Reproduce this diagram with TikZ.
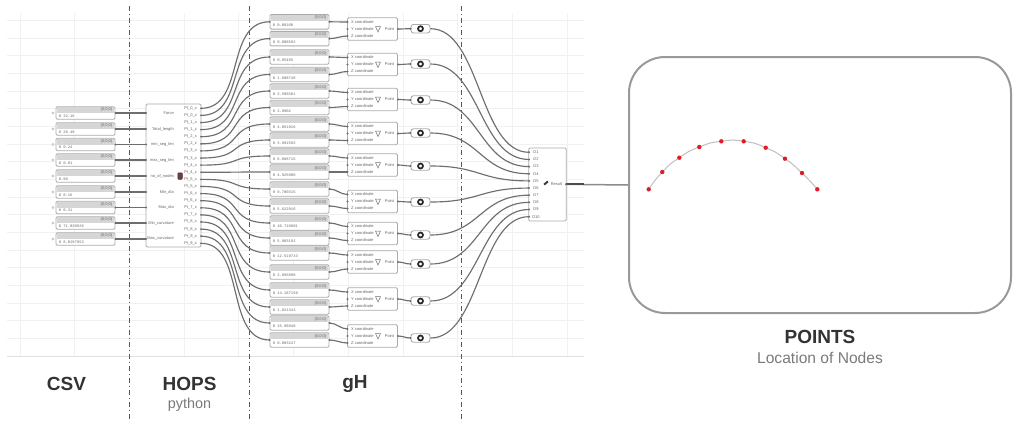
\documentclass[tikz,border=0pt]{standalone}
\usepackage{fontspec}
\setmainfont{Liberation Sans}
\setmonofont{Liberation Mono}
\usetikzlibrary{calc}
\definecolor{wirec}{HTML}{6E6E6E}
\definecolor{boxc}{HTML}{ABABAB}
\definecolor{headc}{HTML}{D6D6D6}
\definecolor{gridc}{HTML}{F1F1F1}
\definecolor{txtc}{HTML}{666666}
\definecolor{redc}{HTML}{DC1E28}
\definecolor{titlec}{HTML}{333333}
\definecolor{subc}{HTML}{7A7A7A}
\tikzset{
  x=1pt,y=-1pt,
  gridline/.style={gridc,line width=0.7pt},
  sepline/.style={draw=black!65,line width=0.9pt,dash pattern=on 5pt off 3pt on 1pt off 3pt},
  compbox/.style={draw=boxc,fill=white,rounded corners=1.2pt,line width=0.9pt,inner sep=0pt},
  tiny/.style={font=\fontsize{4}{4}\selectfont,text=txtc,inner sep=0pt},
  tinyr/.style={tiny,anchor=east},
  tinyl/.style={tiny,anchor=west},
  mono/.style={font=\ttfamily\fontsize{3.8}{4}\selectfont,text=txtc,inner sep=0pt,anchor=west},
  wire/.style={draw=wirec,line width=1.15pt},
  portdot/.style={circle,fill=wirec,inner sep=0pt,minimum size=2.3pt},
  title/.style={font=\bfseries\fontsize{19}{21}\selectfont,text=titlec,inner sep=0pt},
  sub/.style={text=subc,inner sep=0pt},
  reddot/.style={circle,fill=redc,inner sep=0pt,minimum size=4.4pt},
}
\begin{document}
\begin{tikzpicture}
\useasboundingbox (0,0) rectangle (1024,424);
% grid
\foreach \k in {1,...,19} \draw[gridline] (7,{356-17.67*\k}) -- (584,{356-17.67*\k});
\foreach \k in {0,...,10} \draw[gridline] ({20+54.7*\k},13) -- ({20+54.7*\k},356);
\draw[black!12,line width=0.7pt] (7,356) -- (584,356);
% separators
\foreach \sx in {129.3,249.8,461.6} \draw[sepline] (\sx,6) -- (\sx,419);

% HOPS component
\node[compbox,minimum width=55pt,minimum height=143pt] (hops) at (173.5,175.5) {};
% merge component
\node[compbox,minimum width=37.5pt,minimum height=73pt] (merge) at (547.5,184.5) {};
% outputs of HOPS
\foreach \i/\t in {1/Pt\_0\_x,2/Pt\_0\_z,3/Pt\_1\_x,4/Pt\_1\_z,5/Pt\_2\_x,6/Pt\_2\_z,7/Pt\_3\_x,8/Pt\_3\_z,9/Pt\_4\_x,10/Pt\_4\_z,11/Pt\_5\_x,12/Pt\_5\_z,13/Pt\_6\_x,14/Pt\_6\_z,15/Pt\_7\_x,16/Pt\_7\_z,17/Pt\_8\_x,18/Pt\_8\_z,19/Pt\_9\_x,20/Pt\_9\_z}{
  \coordinate (ho\i) at (201,{108.3+7.105*(\i-1)});
  \node[tinyr] (hol\i) at (197,{108.3+7.105*(\i-1)}) {\t};
}
% sliders and HOPS inputs
\foreach \i/\y/\v/\t in {1/113/0 32.16/Force,2/129/0 28.48/Total\_length,3/144.5/0 0.24/min\_seg\_len,4/160/0 0.81/max\_seg\_len,5/176/0.99/no\_of\_nodes,6/192/0 0.16/Min\_dia,7/207.5/0 0.31/Max\_dia,8/223/0 71.020926/Min\_curvature,9/239/0 8.0187953/Max\_curvature}{
  \node[compbox,minimum width=59pt,minimum height=12.5pt] (s\i) at (85.5,\y) {};
  \fill[headc] ($(s\i.north west)+(1,1)$) rectangle ($(s\i.east)+(-1,0)$);
  \node[tinyr] (sh\i) at ($(s\i.east)+(-3,-3.2)$) {\{0;0;0\}};
  \node[mono] (sv\i) at ($(s\i.west)+(3,3.2)$) {\v};
  \coordinate (hi\i) at (146,\y);
  \node[tinyr] (hl\i) at (174,\y) {\t};
  \draw[wire,line width=1.3pt] (s\i.east) -- (hi\i);
  \node[portdot] (sp\i) at (s\i.east) {};
  \node[portdot] (hp\i) at (hi\i) {};
  \node[circle,draw=boxc,fill=white,inner sep=0pt,minimum size=2.2pt,line width=0.4pt] (sg\i) at ($(s\i.west)+(-2.5,0)$) {};
}
% python icon
\node[draw=redc!70!black,fill=black!70,rounded corners=0.8pt,inner sep=0pt,minimum width=4.5pt,minimum height=6.5pt,line width=0.5pt] (pyicon) at (180,176) {};

% panels
\foreach \i/\y/\v in {1/21.8/0 0.00100,2/38.6/0 0.008592,3/57/0 0.85495,4/74.5/0 1.608748,5/91/0 2.596501,6/107.5/0 2.9902,7/124/0 4.051916,8/140/0 3.991592,9/156/0 6.088716,10/172/0 4.925908,11/189/0 9.700315,12/206/0 5.622916,13/223/0 10.719901,14/238/0 5.903192,15/253/0 12.519733,16/272/0 2.856898,17/290/0 14.187159,18/307/0 1.921343,19/323/0 15.98948,20/340/0 0.003247}{
  \node[compbox,minimum width=59pt,minimum height=14.5pt] (p\i) at (299.5,\y) {};
  \fill[headc] ($(p\i.north west)+(1,1)$) rectangle ($(p\i.east)+(-1,-1)$);
  \node[tinyr] (ph\i) at ($(p\i.east)+(-3,-4)$) {\{0;0;0\}};
  \node[mono] (pv\i) at ($(p\i.west)+(3,3.4)$) {\v};
  \draw[wire] (ho\i) .. controls +(45pt,0) and +(-45pt,0) .. (p\i.west);
  \node[portdot] (pl\i) at (p\i.west) {};
  \node[portdot] (pr\i) at (p\i.east) {};
  \node[portdot,minimum size=2pt] (hdot\i) at (ho\i) {};
}
% XYZ, point params and merge inputs
\foreach \i/\y/\c/\a/\b in {1/29/28.7/1/2,2/64.5/64/3/4,3/99.5/100/5/6,4/133.5/133/7/8,5/165/166/9/10,6/201.5/202/11/12,7/233.5/235/13/14,8/262/264/15/16,9/299/301/17/18,10/336/338/19/20}{
  \node[compbox,minimum width=50pt,minimum height=22.5pt] (x\i) at (372.5,\y) {};
  \coordinate (xa\i) at (347.5,\y-7);
  \coordinate (xb\i) at (347.5,\y);
  \coordinate (xc\i) at (347.5,\y+7);
  \node[tinyl] (xl\i) at (351,\y-7) {X coordinate};
  \node[tinyl] (yl\i) at (351,\y) {Y coordinate};
  \node[tinyl] (zl\i) at (351,\y+7) {Z coordinate};
  \node[tiny] (pt\i) at (389.5,\y) {Point};
  \draw[wirec,line width=0.5pt] (375.5,\y-2.5) -- (380.5,\y-2.5) -- (378,\y+3) -- cycle;
  \draw[wire] (p\a.east) .. controls +(7pt,0) and +(-7pt,0) .. (xa\i);
  \draw[wire] (p\b.east) .. controls +(7pt,0) and +(-7pt,0) .. (xc\i);
  \node[portdot] (xpa\i) at (xa\i) {};
  \node[portdot] (xpb\i) at (xb\i) {};
  \node[portdot] (xpc\i) at (xc\i) {};
  \node[compbox,minimum width=19pt,minimum height=8.5pt,rounded corners=2.5pt] (c\i) at (420.5,\c) {};
  \node[circle,draw=black!85,fill=white,line width=1.7pt,inner sep=0pt,minimum size=5pt] (ci\i) at (c\i) {};
  \draw[wire] (x\i.east) .. controls +(5pt,0) and +(-5pt,0) .. (c\i.west);
  \node[portdot] (xo\i) at (x\i.east) {};
  \node[portdot] (cl\i) at (c\i.west) {};
  \coordinate (d\i) at (529,{152.3+7.15*(\i-1)});
  \node[tiny] (dl\i) at (536,{152.3+7.15*(\i-1)}) {D\i};
  \draw[wire] (c\i.east) .. controls +(50pt,0) and +(-50pt,0) .. (d\i);
  \node[portdot] (dp\i) at (d\i) {};
}
% merge output
\node[tiny] (res) at (556.5,184.5) {Result};
\node[fill=black!75,rotate=40,inner sep=0pt,minimum width=5pt,minimum height=2pt] (pin) at (546,183) {};
\coordinate (mo) at (566,184.3);
\coordinate (mk) at (584,184.3);
% big frame
\node[draw=black!40,fill=white,line width=2pt,rounded corners=36pt,minimum width=382pt,minimum height=256pt,inner sep=0pt] (frame) at (820,185) {};
\draw[draw=black!45,line width=1.5pt] (mo) -- (frame.west);
\draw[draw=black!70,line width=1.7pt] (mo) -- (mk);
\node[portdot] (mop) at (mo) {};
% arc of points
\foreach \i/\px/\py in {1/648.7/189.3,2/662.3/172,3/679.3/157.7,4/699.3/147,5/721.3/141.3,6/743.7/141.3,7/765.7/147.7,8/785/158.7,9/802/173,10/817.3/189.3}
  \coordinate (a\i) at (\px,\py);
\draw[black!25,line width=1pt] plot[smooth,tension=1] coordinates {(a1)(a2)(a3)(a4)(a5)(a6)(a7)(a8)(a9)(a10)};
\foreach \i in {1,...,10} \node[reddot] (rd\i) at (a\i) {};
% titles
\node[title] (tcsv) at (66.5,384) {CSV};
\node[title] (thops) at (189.5,384) {HOPS};
\node[sub,font=\fontsize{14.4}{16}\selectfont] (tpy) at (189.5,404.5) {python};
\node[title] (tgh) at (355,384) {gH};
\node[title] (tpts) at (820,337) {POINTS};
\node[sub,font=\fontsize{15.6}{17}\selectfont] (tloc) at (820,358) {Location of Nodes};
\end{tikzpicture}
\end{document}
